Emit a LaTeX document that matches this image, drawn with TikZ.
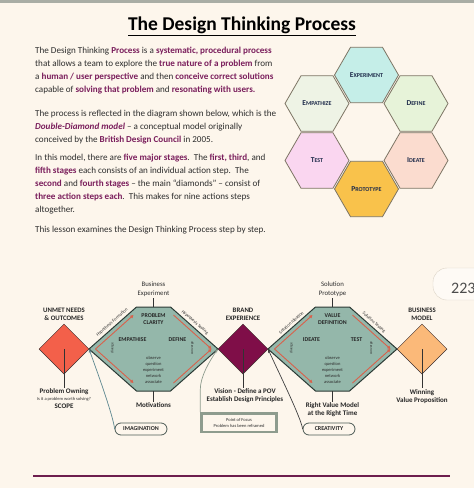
\documentclass[tikz,border=0pt]{standalone}
\usepackage{fontspec}
\setmainfont{Carlito}
\usetikzlibrary{positioning,shapes.geometric,shapes.misc,arrows.meta}

\definecolor{bgcream}{HTML}{FDF6EC}
\definecolor{topbar}{HTML}{A9ADA5}
\definecolor{textgrey}{HTML}{2E2E2E}
\definecolor{dtpurple}{HTML}{7A1E5C}
\definecolor{hexline}{HTML}{7D7564}
\definecolor{hexink}{HTML}{1E2B4A}
\definecolor{experfill}{HTML}{C5EEE8}
\definecolor{empathfill}{HTML}{EEF3E5}
\definecolor{definefill}{HTML}{E7F3D9}
\definecolor{testfill}{HTML}{FAD6F0}
\definecolor{ideatefill}{HTML}{FBDCCF}
\definecolor{protofill}{HTML}{F9C24B}
\definecolor{cellteal}{HTML}{94B7AA}
\definecolor{cellline}{HTML}{2C3A35}
\definecolor{flowred}{HTML}{D9614B}
\definecolor{unmetred}{HTML}{F3604A}
\definecolor{brandplum}{HTML}{7F0E48}
\definecolor{bizorange}{HTML}{FBB979}
\definecolor{diamline}{HTML}{3B2B2B}
\definecolor{pillline}{HTML}{4D5B55}
\definecolor{focusgrey}{HTML}{8E9C8E}
\definecolor{linkteal}{HTML}{5E8890}
\definecolor{pagebox}{HTML}{DCD4C6}
\definecolor{rulepurple}{HTML}{6E1E4E}

\newcommand{\keyw}[1]{\textbf{\color{dtpurple}#1}}
\newcommand{\hexcap}[2]{{\fontsize{7.5}{8}\selectfont #1}{\fontsize{6}{7}\selectfont #2}}

\begin{document}
\begin{tikzpicture}[x=1pt, y=-1pt,
    every node/.style={text=textgrey, inner sep=1pt},
    para/.style={anchor=north west, align=left, inner sep=0pt,
        font=\fontsize{9.1}{13}\selectfont},
    hexcell/.style={regular polygon, regular polygon sides=6, minimum size=64pt,
        inner sep=0pt, draw=hexline, line width=0.8pt, font=\bfseries, text=hexink},
    cell/.style={fill=cellteal, draw=cellline, line width=1pt, line join=round},
    stage/.style={diamond, minimum width=50pt, minimum height=50pt, inner sep=0pt,
        draw=diamline, line width=0.5pt},
    stagecap/.style={align=center, font=\fontsize{6.8}{8}\selectfont\bfseries, text=black!85},
    stagefoot/.style={align=center, font=\fontsize{7}{8}\selectfont\bfseries, text=black!85},
    caplbl/.style={align=center, font=\fontsize{6.8}{8.5}\selectfont},
    steplbl/.style={align=center, font=\fontsize{5.9}{7.5}\selectfont\bfseries, text=black!85},
    finetext/.style={align=center, font=\fontsize{4.5}{6}\selectfont},
    stem/.style={draw=black!80, line width=1pt},
    flow/.style={draw=flowred, line width=0.9pt, -{Triangle[length=3.2pt,width=3.2pt]}},
    pill/.style={rounded rectangle, draw=pillline, line width=0.8pt, fill=bgcream,
        minimum width=52pt, minimum height=12pt, inner sep=0pt,
        font=\fontsize{6}{7}\selectfont\bfseries, text=black!85},
    focusbox/.style={draw=focusgrey, line width=2.5pt, fill=bgcream, minimum width=75pt,
        minimum height=18.5pt, align=center, font=\fontsize{4.5}{6}\selectfont},
    link/.style={line width=0.7pt, -{Stealth[length=4pt,width=3pt]}}
  ]
  \useasboundingbox (0,0) rectangle (474,488);
  \fill[bgcream] (0,0) rectangle (474,488);
  \fill[topbar] (0,0) rectangle (474,3);

  % title and text
  \node[font=\fontsize{19.5}{22}\selectfont\bfseries, text=black] (title) at (242,26)
    {\underline{The Design Thinking Process}};
  \node[para] (intro) at (35,47) {The Design Thinking \keyw{Process} is a \keyw{systematic, procedural process}\\
    that allows a team to explore the \keyw{true nature of a problem} from\\
    a \keyw{human / user perspective} and then \keyw{conceive correct solutions}\\
    capable of \keyw{solving that problem} and \keyw{resonating with users.}};
  \node[para] (model) at (35,110) {The process is reflected in the diagram shown below, which is the\\
    \keyw{\textit{Double-Diamond model}} -- a conceptual model originally\\
    conceived by the \keyw{British Design Council} in 2005.};
  \node[para] (stages) at (35,154) {In this model, there are \keyw{five major stages}.\ \ The \keyw{first, third}, and\\
    \keyw{fifth stages} each consists of an individual action step.\ \ The\\
    \keyw{second} and \keyw{fourth stages} -- the main “diamonds” -- consist of\\
    \keyw{three action steps each}.\ \ This makes for nine actions steps\\
    altogether.};
  \node[para] (lesson) at (35,226) {This lesson examines the Design Thinking Process step by step.};

  % hexagon ring
  \node[hexcell, fill=experfill] (exper) at (366.5,75) {\hexcap{E}{XPERIMENT}};
  \node[hexcell, fill=empathfill] (empath) at (317,103.5) {\hexcap{E}{MPATHIZE}};
  \node[hexcell, fill=definefill] (define) at (416,103.5) {\hexcap{D}{EFINE}};
  \node[hexcell, fill=testfill] (test) at (317,160.5) {\hexcap{T}{EST}};
  \node[hexcell, fill=ideatefill] (ideate) at (416,160.5) {\hexcap{I}{DEATE}};
  \node[hexcell, fill=protofill] (proto) at (366.5,189) {\hexcap{P}{ROTOTYPE}};

  % page tab
  \draw[draw=pagebox, fill=bgcream!50!white, rounded corners=14pt] (433,268) rectangle (520,300);
  \node[anchor=base west, font=\fontsize{16}{18}\selectfont, text=black!70] (pagenum) at (450,293) {223};

  % the two diamonds
  \foreach \n/\cx/\capt/\headtxt/\lstep/\rstep/\edgeA/\edgeB/\foottxt in {
      1/153.5/{Business\\Experiment}/{PROBLEM\\CLARITY}/EMPATHISE/DEFINE/{Hypothesis Formation}/{Hypothesis Testing}/Motivations,
      2/332.5/{Solution\\Prototype}/{VALUE\\DEFINITION}/IDEATE/TEST/{Solution Ideation}/{Solution Testing}/{Right Value Model\\at the Right Time}}{
    \coordinate (hex\n-w) at (\cx-64.5,349);
    \coordinate (hex\n-nw) at (\cx-17,307);
    \coordinate (hex\n-n) at (\cx,307);
    \coordinate (hex\n-ne) at (\cx+17,307);
    \coordinate (hex\n-e) at (\cx+64.5,349);
    \coordinate (hex\n-se) at (\cx+17,391);
    \coordinate (hex\n-s) at (\cx,391);
    \coordinate (hex\n-sw) at (\cx-17,391);
    \draw[cell] (hex\n-w) -- (hex\n-nw) -- (hex\n-ne) -- (hex\n-e) -- (hex\n-se) -- (hex\n-sw) -- cycle;
    \node[caplbl, anchor=south] (capt\n) at (\cx,297.5) {\capt};
    \draw[stem] (hex\n-n) -- (capt\n.south);
    \node[steplbl] (head\n) at (\cx,319) {\headtxt};
    \node[steplbl] (lstep\n) at (\cx-21,339.5) {\lstep};
    \node[steplbl] (rstep\n) at (\cx+24,339.5) {\rstep};
    \node[finetext] (acts\n) at (\cx,370) {observe\\question\\experiment\\network\\associate};
    \node[finetext, font=\fontsize{3.6}{4}\selectfont, rotate=90] (div\n) at (\cx-41,348) {diverge};
    \node[finetext, font=\fontsize{3.6}{4}\selectfont, rotate=90] (conv\n) at (\cx+39,348) {converge};
    \draw[flow] (\cx-58,349) -- (\cx-20,315);
    \draw[flow] (\cx-58,349) -- (\cx-20,383);
    \draw[flow] (\cx+20,315) -- (\cx+58,349);
    \draw[flow] (\cx+20,383) -- (\cx+58,349);
    \path (hex\n-w) -- (hex\n-nw) node[finetext, pos=0.55, sloped, above=1.5pt] {\edgeA};
    \path (hex\n-ne) -- (hex\n-e) node[finetext, pos=0.45, sloped, above=1.5pt] {\edgeB};
    \node[stagefoot, anchor=north] (foot\n) at (\cx,401.5) {\foottxt};
    \draw[stem] (hex\n-s) -- (foot\n.north);
  }

  % stages
  \node[stage, fill=unmetred] (unmet) at (64,349) {};
  \node[stagecap, above=2pt of unmet] (unmetcap) {UNMET NEEDS\\\& OUTCOMES};
  \node[stagefoot, anchor=north] (owning) at (64,387.5) {Problem Owning};
  \node[finetext, below=0pt of owning] (worth) {Is it a problem worth solving?};
  \node[stagefoot, below=0pt of worth] (scope) {SCOPE};
  \draw[stem] (unmet.center) -- (owning.north);

  \node[stage, fill=brandplum] (brand) at (243,349) {};
  \node[stagecap, above=2pt of brand] (brandcap) {BRAND\\EXPERIENCE};
  \node[stagefoot, anchor=north] (vision) at (245,387.5) {Vision - Define a POV\\Establish Design Principles};
  \draw[stem] (brand.center) -- (brand.center |- vision.north);
  \node[focusbox] (focus) at (239,422.5) {Point of Focus\\Problem has been reframed};

  \node[stage, fill=bizorange] (biz) at (422,349) {};
  \node[stagecap, above=2pt of biz] (bizcap) {BUSINESS\\MODEL};
  \node[stagefoot, anchor=north] (winning) at (422,388) {Winning\\Value Proposition};
  \draw[stem] (biz.center) -- (winning.north);

  % imagination / creativity
  \node[pill] (imag) at (141,429) {IMAGINATION};
  \node[pill] (crea) at (329,429) {CREATIVITY};
  \draw[link, linkteal] (imag.west) .. controls +(-1,-12) and +(8,22) .. (hex1-w);
  \draw[link, focusgrey] (focus.north west) -- ++(0,-22) .. controls +(0,-14) and +(-8,12) .. (brand.west);
  \draw[link, black!75] (crea.west) .. controls +(-1,-10) and +(10,22) .. (hex2-w);

  \draw[rulepurple, line width=1.8pt] (33,476) -- (450,476);
\end{tikzpicture}
\end{document}
